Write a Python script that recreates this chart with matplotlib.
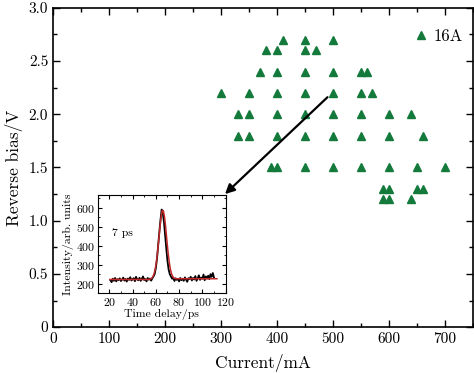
import matplotlib
matplotlib.use("Agg")
import matplotlib.pyplot as plt
from matplotlib.ticker import MultipleLocator, FuncFormatter

plt.rcParams["font.family"] = "serif"
plt.rcParams["font.serif"] = ["cmr10", "DejaVu Serif"]
plt.rcParams["mathtext.fontset"] = "cm"
plt.rcParams["axes.formatter.use_mathtext"] = True

# operating points (current mA, reverse bias V)
current = [410, 450, 500,
           380, 400, 450, 470,
           370, 400, 450, 500, 550, 560,
           300, 350, 400, 450, 500, 550, 570,
           330, 350, 400, 450, 500, 550, 600, 640,
           330, 350, 400, 450, 500, 550, 600, 660,
           390, 400, 450, 500, 550, 600, 650, 700,
           590, 600, 650, 660,
           590, 600, 640]
bias = [2.7, 2.7, 2.7,
        2.6, 2.6, 2.6, 2.6,
        2.4, 2.4, 2.4, 2.4, 2.4, 2.4,
        2.2, 2.2, 2.2, 2.2, 2.2, 2.2, 2.2,
        2.0, 2.0, 2.0, 2.0, 2.0, 2.0, 2.0, 2.0,
        1.8, 1.8, 1.8, 1.8, 1.8, 1.8, 1.8, 1.8,
        1.5, 1.5, 1.5, 1.5, 1.5, 1.5, 1.5, 1.5,
        1.3, 1.3, 1.3, 1.3,
        1.2, 1.2, 1.2]

# inset: measured pulse trace and fit
delay = list(range(21, 111))
trace = [218, 208, 226, 215, 230, 212, 224, 219, 228, 214,
         221, 232, 216, 225, 211, 227, 220, 234, 217, 223,
         229, 213, 236, 222, 218, 231, 215, 226, 238, 219,
         224, 212, 230, 221, 227, 216, 228, 238, 250, 282,
         330, 400, 470, 535, 590, 570, 525, 455, 385, 320,
         275, 250, 238, 226, 232, 214, 228, 220, 225, 212,
         230, 218, 226, 215, 233, 221, 210, 229, 224, 236,
         217, 230, 222, 240, 215, 228, 244, 220, 232, 226,
         248, 218, 238, 227, 242, 224, 250, 236, 256, 232]
fit_delay = list(range(20, 113))
fit = [222] * 34 + [223, 225, 229, 237, 252, 277, 315, 366, 428, 495, 550,
                    584, 584, 550, 495, 428, 366, 315, 277, 252, 237, 230,
                    227, 226] + [226] * 35

fig = plt.figure(figsize=(4.74, 3.73), dpi=100)
ax = fig.add_axes([0.112, 0.123, 0.886, 0.856])
ax.plot(current, bias, linestyle="none", marker="^", markersize=6,
        color="#137a3c", label="16A")
ax.set_xlim(0, 750)
ax.set_ylim(0, 3.0)
ax.xaxis.set_major_locator(MultipleLocator(100))
ax.xaxis.set_minor_locator(MultipleLocator(50))
ax.yaxis.set_major_locator(MultipleLocator(0.5))
ax.yaxis.set_minor_locator(MultipleLocator(0.25))
ax.xaxis.set_major_formatter(FuncFormatter(lambda v, p: "%d" % v))
ax.yaxis.set_major_formatter(FuncFormatter(lambda v, p: "0" if v == 0 else "%.1f" % v))
ax.tick_params(which="both", direction="in", top=True, right=True, labelsize=11)
ax.tick_params(which="major", length=5, width=1)
ax.tick_params(which="minor", length=3, width=1)
for s in ax.spines.values():
    s.set_linewidth(1.2)
ax.set_xlabel("Current/mA", fontsize=12.5, labelpad=6)
ax.set_ylabel("Reverse bias/V", fontsize=12.5, labelpad=4)
ax.legend(loc="upper right", bbox_to_anchor=(1.012, 0.982), frameon=False,
          fontsize=12, handletextpad=0.4, handlelength=0.8, borderaxespad=0.5)

ax.annotate("", xy=(307, 1.25), xytext=(490, 2.16),
            arrowprops=dict(arrowstyle="-|>", color="black", lw=1.6,
                            mutation_scale=14, shrinkA=0, shrinkB=0))

ins = fig.add_axes([0.206, 0.214, 0.270, 0.264])
ins.plot(delay, trace, color="black", lw=1.3)
ins.plot([d + 0.5 for d in fit_delay], fit, color="#c0282a", lw=1.1)
ins.set_xlim(10, 120)
ins.set_ylim(150, 668)
ins.xaxis.set_major_locator(MultipleLocator(20))
ins.xaxis.set_minor_locator(MultipleLocator(10))
ins.yaxis.set_major_locator(MultipleLocator(100))
ins.yaxis.set_minor_locator(MultipleLocator(50))
ins.tick_params(which="both", direction="in", top=True, right=True, labelsize=8.5, pad=2)
ins.tick_params(which="major", length=3)
ins.tick_params(which="minor", length=1.5)
ins.set_xlabel("Time delay/ps", fontsize=8.5, labelpad=1)
ins.set_ylabel("Intensity/arb. units", fontsize=8.5, labelpad=1)
ins.text(22, 450, "7 ps", fontsize=8.5)

fig.savefig("out.png", dpi=100)
